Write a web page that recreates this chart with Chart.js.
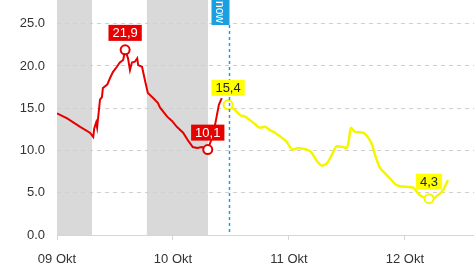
<!DOCTYPE html>
<html>
<head>
<meta charset="utf-8">
<script src="https://cdn.jsdelivr.net/npm/chart.js@4/dist/chart.umd.min.js"></script>
<style>
  html, body { margin: 0; padding: 0; background: #fff; }
  #wrap { width: 474px; height: 272px; }
</style>
</head>
<body>
<div id="wrap"><canvas id="chart"></canvas></div>
<script>
// Stunden ab 09 Okt 00:00
const dayTicks = [0, 24, 48, 72];
const dayLabels = ['09 Okt', '10 Okt', '11 Okt', '12 Okt'];

// gemessene Werte (rot)
const pastHours = [0, 2.1, 4.8, 6.8, 7.5, 7.7, 8.1, 8.3, 8.9, 9.3, 9.5, 10.4, 11.0, 11.6, 12.4, 13.0, 13.7, 14.1, 14.7, 15.1, 15.5, 16.1, 16.6, 16.8, 17.6, 18.2, 18.8, 19.9, 20.9, 21.3, 22.8, 23.8, 24.8, 26.1, 27.1, 28.1, 29.0, 30.0, 30.8, 31.2, 31.9, 32.7, 33.5, 34.1];
const pastValues = [14.4, 13.8, 12.8, 12.1, 11.6, 12.6, 13.3, 12.7, 16.0, 16.3, 17.4, 17.8, 18.6, 19.3, 19.9, 20.4, 20.7, 21.9, 20.9, 19.5, 20.4, 20.5, 20.9, 20.1, 19.9, 18.3, 16.8, 16.2, 15.6, 15.1, 14.0, 13.5, 12.8, 12.1, 11.2, 10.4, 10.3, 10.4, 10.2, 10.1, 11.2, 13.0, 15.4, 16.2];

// Prognose (gelb)
const forecastHours = [35.4, 36.8, 37.9, 38.9, 39.9, 41.0, 42.0, 43.0, 44.1, 45.1, 46.1, 47.4, 48.8, 49.9, 50.9, 51.7, 52.6, 53.4, 54.0, 54.8, 55.9, 56.9, 57.9, 59.2, 60.0, 60.4, 60.8, 61.7, 63.3, 64.3, 65.2, 65.8, 66.8, 67.9, 68.9, 70.3, 72.4, 73.7, 75.1, 77.0, 77.8, 78.8, 79.9, 80.9];
const forecastValues = [15.4, 14.8, 14.2, 14.0, 13.6, 13.1, 12.7, 12.8, 12.4, 12.1, 11.7, 11.1, 10.1, 10.3, 10.2, 10.1, 9.8, 9.1, 8.6, 8.2, 8.5, 9.5, 10.5, 10.4, 10.3, 11.2, 12.7, 12.2, 12.1, 11.6, 10.7, 9.5, 8.0, 7.3, 6.7, 5.9, 5.7, 5.6, 4.7, 4.3, 4.3, 4.7, 5.3, 6.5];

// markierte Extremwerte
const pastMarkHours = [14.1, 31.2];
const pastMarkValues = [21.9, 10.1];
const forecastMarkHours = [35.4, 77.0];
const forecastMarkValues = [15.4, 4.3];

// Nachtzeiten
const nightStart = [-5, 18.6];
const nightEnd = [7.25, 31.25];

const nowHour = 35.6;

const RED = '#e60000';
const YELLOW = '#f5f500';
const BLUE = '#1a9fe0';

function toPoints(xs, ys) {
    return xs.map((x, i) => ({ x: x, y: ys[i] }));
}

// Nachtbalken hinter allem
const nightPlugin = {
    id: 'night',
    beforeDraw(chart) {
        const { ctx, chartArea, scales } = chart;
        ctx.save();
        ctx.fillStyle = '#d9d9d9';
        nightStart.forEach((s, i) => {
            const x1 = Math.max(scales.x.getPixelForValue(s), chartArea.left);
            const x2 = scales.x.getPixelForValue(nightEnd[i]);
            ctx.fillRect(x1, chartArea.top, x2 - x1, chartArea.bottom - chartArea.top);
        });
        ctx.restore();
    }
};

// "now"-Linie und Wertelabels
const overlayPlugin = {
    id: 'overlay',
    afterDatasetsDraw(chart) {
        const { ctx, chartArea, scales } = chart;
        ctx.save();

        const nx = Math.round(scales.x.getPixelForValue(nowHour)) + 0.5;
        ctx.strokeStyle = BLUE;
        ctx.lineWidth = 1.5;
        ctx.setLineDash([3, 3]);
        ctx.beginPath();
        ctx.moveTo(nx, 25);
        ctx.lineTo(nx, chartArea.bottom);
        ctx.stroke();
        ctx.setLineDash([]);

        ctx.fillStyle = BLUE;
        ctx.fillRect(nx - 18, 0, 18, 25);
        ctx.save();
        ctx.translate(nx - 9, 12);
        ctx.rotate(Math.PI / 2);
        ctx.fillStyle = '#fff';
        ctx.font = '12px "Liberation Sans", Arial, sans-serif';
        ctx.textAlign = 'center';
        ctx.textBaseline = 'middle';
        ctx.fillText('now', 0, 1);
        ctx.restore();

        ctx.font = '13px "Liberation Sans", Arial, sans-serif';
        ctx.textAlign = 'center';
        ctx.textBaseline = 'middle';
        const drawLabel = (h, v, bg, fg) => {
            const px = scales.x.getPixelForValue(h);
            const py = scales.y.getPixelForValue(v);
            const text = v.toFixed(1).replace('.', ',');
            const w = ctx.measureText(text).width + 8;
            const bh = 16;
            ctx.fillStyle = bg;
            ctx.fillRect(px - w / 2, py - 9 - bh, w, bh);
            ctx.fillStyle = fg;
            ctx.fillText(text, px, py - 9 - bh / 2 + 1);
        };
        pastMarkHours.forEach((h, i) => drawLabel(h, pastMarkValues[i], RED, '#fff'));
        forecastMarkHours.forEach((h, i) => drawLabel(h, forecastMarkValues[i], '#ffff00', '#222'));

        ctx.restore();
    }
};

new Chart(document.getElementById('chart'), {
    type: 'line',
    data: {
        datasets: [
            {
                data: toPoints(pastMarkHours, pastMarkValues),
                showLine: false,
                pointRadius: 4.5,
                pointBorderWidth: 2,
                pointBorderColor: RED,
                pointBackgroundColor: '#fff'
            },
            {
                data: toPoints(forecastMarkHours, forecastMarkValues),
                showLine: false,
                pointRadius: 4.5,
                pointBorderWidth: 2,
                pointBorderColor: YELLOW,
                pointBackgroundColor: '#fff'
            },
            {
                data: toPoints(pastHours, pastValues),
                borderColor: RED,
                borderWidth: 2,
                pointRadius: 0,
                tension: 0
            },
            {
                data: toPoints(forecastHours, forecastValues),
                borderColor: YELLOW,
                borderWidth: 2.5,
                pointRadius: 0,
                tension: 0.4,
                cubicInterpolationMode: 'monotone'
            }
        ]
    },
    options: {
        responsive: true,
        maintainAspectRatio: false,
        animation: false,
        layout: { padding: 0, autoPadding: false },
        plugins: {
            legend: { display: false },
            tooltip: { enabled: false }
        },
        scales: {
            x: {
                type: 'linear',
                min: 0,
                max: 86.3,
                afterBuildTicks(scale) {
                    scale.ticks = dayTicks.map(v => ({ value: v }));
                },
                afterFit(scale) {
                    scale.height = 37;
                    scale.paddingLeft = 0;
                    scale.paddingRight = 0;
                },
                ticks: {
                    callback: (v) => dayLabels[dayTicks.indexOf(v)],
                    color: '#333',
                    font: { family: '"Liberation Sans", Arial, sans-serif', size: 13 },
                    padding: 12,
                    maxRotation: 0
                },
                grid: {
                    drawOnChartArea: false,
                    drawTicks: true,
                    tickLength: 5,
                    color: '#d6d6d6'
                },
                border: { color: '#d6d6d6', width: 1 }
            },
            y: {
                min: 0,
                max: 27.8,
                afterBuildTicks(scale) {
                    scale.ticks = scale.ticks.filter(t => Math.abs(t.value % 5) < 1e-6);
                },
                afterFit(scale) {
                    scale.width = 57;
                    scale.paddingTop = 0;
                    scale.paddingBottom = 0;
                },
                ticks: {
                    stepSize: 5,
                    callback: (v) => v.toFixed(1),
                    color: '#333',
                    font: { family: '"Liberation Sans", Arial, sans-serif', size: 13 },
                    padding: 12
                },
                grid: {
                    color: '#cfcfcf',
                    drawTicks: false
                },
                border: { display: false, dash: [4, 4] }
            }
        }
    },
    plugins: [nightPlugin, overlayPlugin]
});
</script>
</body>
</html>
